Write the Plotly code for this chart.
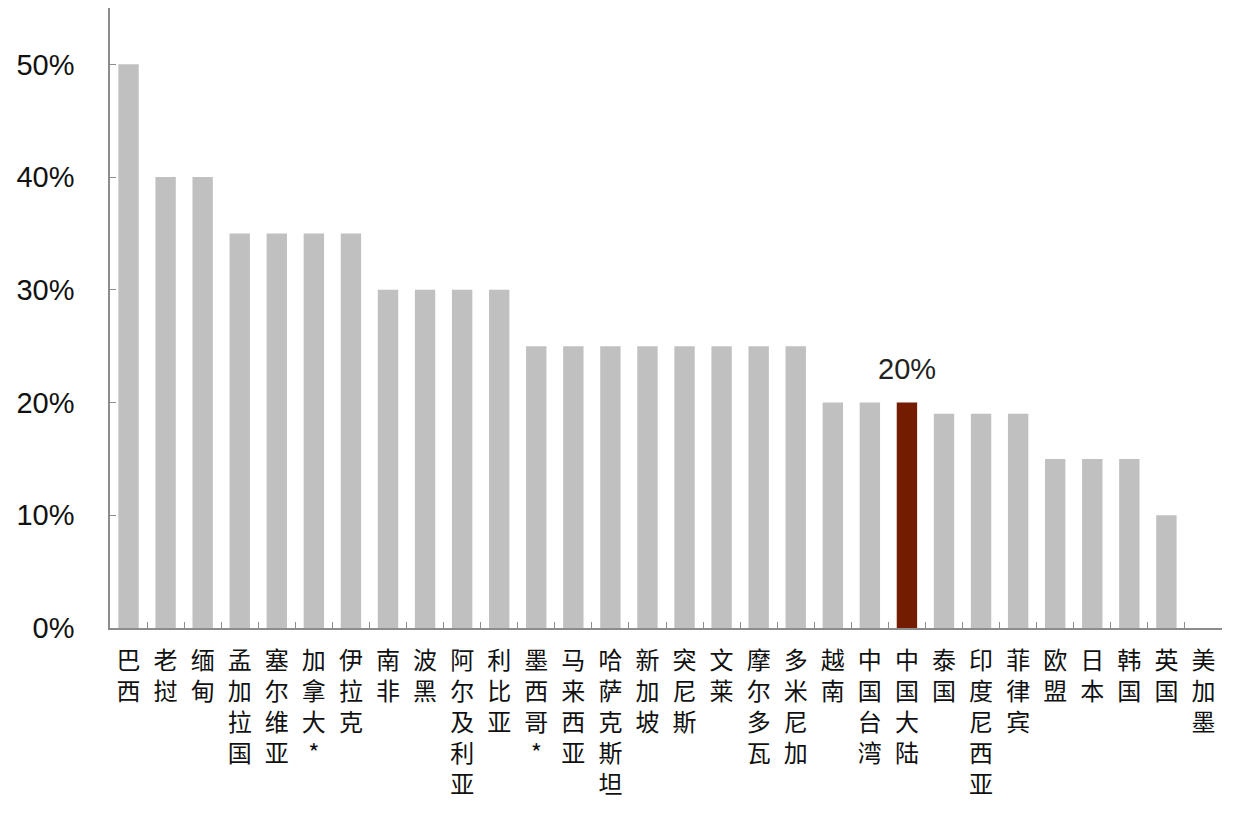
import plotly.graph_objects as go

countries = ['巴西', '老挝', '缅甸', '孟加拉国', '塞尔维亚', '加拿大*', '伊拉克', '南非', '波黑',
             '阿尔及利亚', '利比亚', '墨西哥*', '马来西亚', '哈萨克斯坦', '新加坡', '突尼斯', '文莱',
             '摩尔多瓦', '多米尼加', '越南', '中国台湾', '中国大陆', '泰国', '印度尼西亚', '菲律宾',
             '欧盟', '日本', '韩国', '英国', '美加墨']
rates = [50, 40, 40, 35, 35, 35, 35, 30, 30, 30, 30, 25, 25, 25, 25, 25, 25, 25, 25,
         20, 20, 20, 19, 19, 19, 15, 15, 15, 10, 0]
highlight = '中国大陆'
y_ticks = [0, 10, 20, 30, 40, 50]
y_tick_labels = ['0%', '10%', '20%', '30%', '40%', '50%']

# vertical labels: one character per line
x_labels = ['<br>'.join(c) for c in countries]
colors = ['#731C00' if c == highlight else '#C0C0C0' for c in countries]

fig = go.Figure()
fig.add_trace(go.Bar(x=x_labels, y=rates, marker=dict(color=colors, line=dict(width=0)),
                     hoverinfo='skip'))

hi = countries.index(highlight)
fig.add_annotation(x=x_labels[hi], y=rates[hi], text=f'{rates[hi]}%', showarrow=False,
                   yshift=34, font=dict(family='Liberation Sans, Arial', size=29, color='#222222'))

fig.update_layout(
    width=1233, height=816,
    margin=dict(l=102, r=19, t=0, b=196),
    plot_bgcolor='white', paper_bgcolor='white',
    bargap=0.45, showlegend=False,
)
fig.update_xaxes(
    type='category', showline=True, linecolor='#8C8C8C', linewidth=1.5,
    ticks='inside', tickson='boundaries', ticklen=6, tickcolor='#8C8C8C',
    tickfont=dict(family='Noto Sans CJK SC', size=24, color='#111111'),
    tickangle=0, showgrid=False, ticklabelstandoff=10,
)
fig.update_yaxes(
    range=[0, 55], tickvals=y_ticks, ticktext=y_tick_labels,
    showline=True, linecolor='#8C8C8C', linewidth=1.5,
    ticks='inside', ticklen=6, tickcolor='#8C8C8C', ticklabelstandoff=28,
    tickfont=dict(family='Liberation Sans, Arial', size=29, color='#111111'),
    showgrid=False, zeroline=False,
)

fig.write_html('out.html')
